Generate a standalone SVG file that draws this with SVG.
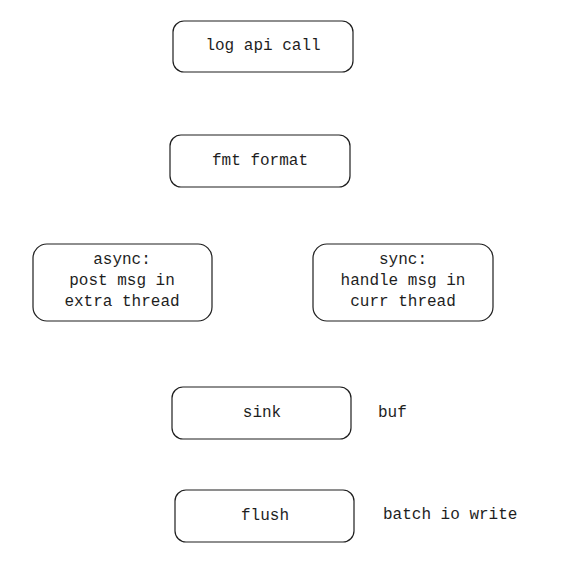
<svg xmlns="http://www.w3.org/2000/svg" width="561" height="568" viewBox="0 0 561 568">
<style>
.box{fill:#ffffff;stroke:#1e1e1e;stroke-width:1.2}
.t{font-family:"Liberation Mono","DejaVu Sans Mono",monospace;font-size:16px;fill:#1e1e1e;text-anchor:middle;dominant-baseline:central}
.l{font-family:"Liberation Mono","DejaVu Sans Mono",monospace;font-size:16px;fill:#1e1e1e;dominant-baseline:central}
</style>
<rect width="561" height="568" fill="#ffffff"/>
<g id="connectors"></g>
<g id="log-api-call">
<rect class="box" x="173" y="21" width="180" height="51" rx="11"/>
<text class="t" x="263" y="46">log api call</text>
</g>
<g id="fmt-format">
<rect class="box" x="170" y="135" width="180" height="52" rx="11"/>
<text class="t" x="260" y="161">fmt format</text>
</g>
<g id="async">
<rect class="box" x="33" y="244" width="179" height="77" rx="14"/>
<text class="t" x="122" y="260">async:</text>
<text class="t" x="122" y="281">post msg in</text>
<text class="t" x="122" y="302">extra thread</text>
</g>
<g id="sync">
<rect class="box" x="313" y="244" width="180" height="77" rx="14"/>
<text class="t" x="403" y="260">sync:</text>
<text class="t" x="403" y="281">handle msg in</text>
<text class="t" x="403" y="302">curr thread</text>
</g>
<g id="sink">
<rect class="box" x="172" y="387" width="179" height="52" rx="11"/>
<text class="t" x="262" y="413">sink</text>
<text class="l" x="378" y="413">buf</text>
</g>
<g id="flush">
<rect class="box" x="175" y="490" width="179" height="52" rx="11"/>
<text class="t" x="265" y="516">flush</text>
<text class="l" x="383" y="515">batch io write</text>
</g>
</svg>
